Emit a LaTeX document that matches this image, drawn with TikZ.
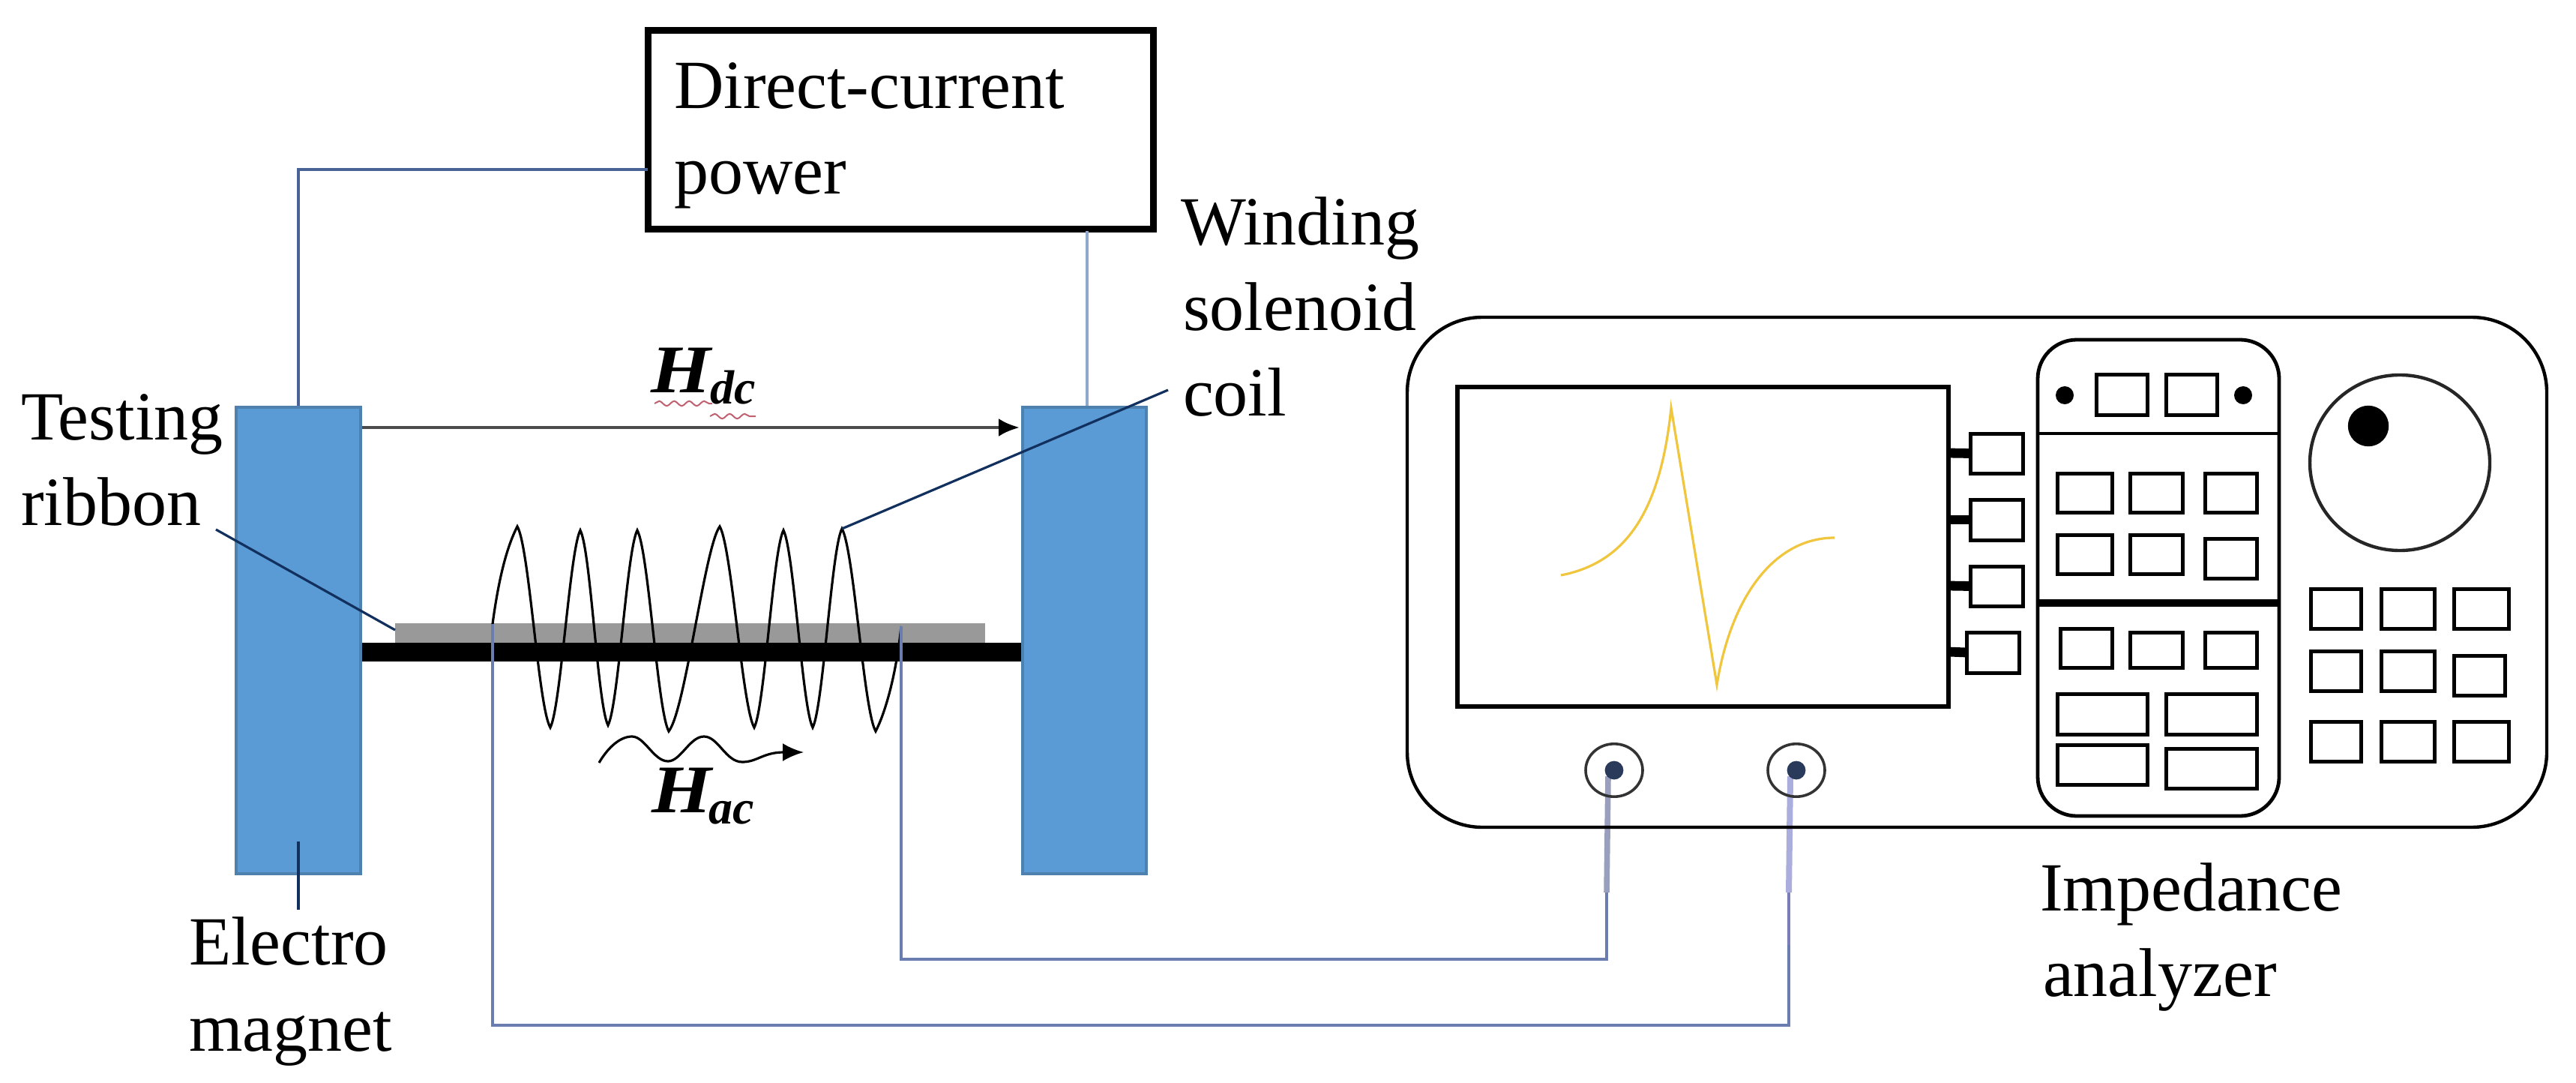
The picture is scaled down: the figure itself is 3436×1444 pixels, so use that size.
\documentclass[tikz,border=0pt]{standalone}
\usepackage{fontspec}
\usepackage{graphicx}
\setmainfont{Liberation Serif}
\usetikzlibrary{arrows.meta,decorations.pathmorphing}
\definecolor{magblue}{HTML}{5B9BD5}
\definecolor{magedge}{HTML}{4F81AF}
\definecolor{wireA}{HTML}{4A6396}
\definecolor{wireB}{HTML}{8FA8CC}
\definecolor{wireC}{HTML}{6A7DAF}
\definecolor{wireD}{HTML}{9A9FBE}
\definecolor{wireE}{HTML}{ABADDD}
\definecolor{wireF}{HTML}{7A7DB8}
\definecolor{navy}{HTML}{12305E}
\definecolor{portdot}{HTML}{2A3A5A}
\definecolor{curvey}{HTML}{F0C63E}
\definecolor{ribbon}{HTML}{999999}
\definecolor{spell}{HTML}{C06070}
\newcommand{\pxbox}[6][]{%
  \pgfmathsetmacro{\bxcx}{(#3+#5)/2}%
  \pgfmathsetmacro{\bxcy}{(#4+#6)/2}%
  \pgfmathsetmacro{\bxw}{(#5-#3)*0.25}%
  \pgfmathsetmacro{\bxh}{(#6-#4)*0.25}%
  \node[plain,minimum width=\bxw pt,minimum height=\bxh pt,#1] (#2) at (\bxcx,\bxcy) {};}
\tikzset{
  x=0.25pt,y=-0.25pt,
  plain/.style={rectangle,inner sep=0pt,outer sep=0pt},
  keybox/.style={draw=black,line width=1.25pt,fill=white},
  magnet/.style={fill=magblue,draw=magedge,line width=0.9pt},
  txt/.style={anchor=base west,inner sep=0pt,outer sep=0pt,font=\fontsize{23}{23}\selectfont},
  wire/.style={line width=0.9pt,color=wireA},
  leader/.style={line width=0.8pt,color=navy},
  hsym/.style={anchor=base west,inner sep=0pt,outer sep=0pt,font=\fontsize{22.7}{23}\selectfont\bfseries\itshape},
  hsub/.style={anchor=base west,inner sep=0pt,outer sep=0pt,font=\fontsize{16}{16}\selectfont\bfseries\itshape},
  spellmark/.style={spell,line width=0.5pt,decorate,decoration={snake,amplitude=0.8pt,segment length=5pt}},
  dn/.style={},
}
\begin{document}
\begin{tikzpicture}
\useasboundingbox (0,0) rectangle (3436,1444);
\fill[white] (0,0) rectangle (3436,1444);
% magnets, ribbon, bar
\pxbox[magnet]{magL}{315}{543}{481}{1165}
\pxbox[magnet]{magR}{1364}{543}{1529}{1165}
\pxbox[fill=ribbon]{strip}{527}{831}{1314}{857}
\pxbox[fill=black]{bar}{483}{857}{1362}{882}
% power supply
\pxbox[draw=black,line width=2.25pt,fill=white]{power}{864}{41}{1538}{305}
\node[txt] (tPow1) at (899,145) {Direct-current};
\node[txt] (tPow2) at (899,259) {power};
\coordinate (pwL) at (864,226);
\coordinate (pwR) at (1450,308);
\coordinate (mgL) at (398,541);
\coordinate (mgR) at (1450,541);
\draw[wire] (pwL) -- (398,226) -- (mgL);
\draw[wire,color=wireB,line width=1.1pt] (pwR) -- (mgR);
% H_dc arrow
\coordinate (dcA) at (483,570);
\coordinate (dcB) at (1360,570);
\draw[line width=1.2pt,color=black!70,-{Latex[length=7pt,width=6pt,color=black]}] (dcA) -- (dcB);
\node[hsym] (hdc) at (868,523) {\scalebox{1.13}[1]{H}};
\node[hsub] (hdcs) at (947,538) {dc};
\draw[spellmark] (873,538) -- (950,538);
\draw[spellmark] (947,555) -- (1008,555);
% coil
\coordinate (coilA) at (657,832);
\coordinate (coilB) at (1202,835);
\coordinate (coilC) at (1123,705);
\draw[line width=0.8pt,color=black]
 (coilA) .. controls +(8,-60) and +(-14,27) .. (690,702)
 .. controls +(16,27) and +(-16,-27) .. (734,970)
 .. controls +(14,-27) and +(-14,27) .. (774,707)
 .. controls +(14,27) and +(-14,-27) .. (811,967)
 .. controls +(14,-27) and +(-14,27) .. (850,707)
 .. controls +(15,27) and +(-15,-27) .. (892,975)
 .. controls +(22,-27) and +(-20,27) .. (960,702)
 .. controls +(16,27) and +(-16,-27) .. (1006,970)
 .. controls +(14,-27) and +(-14,27) .. (1045,707)
 .. controls +(14,27) and +(-14,-27) .. (1084,970)
 .. controls +(14,-27) and +(-14,27) .. (coilC)
 .. controls +(16,27) and +(-16,-27) .. (1168,975)
 .. controls +(14,-27) and +(-6,60) .. (coilB);
% H_ac
\coordinate (acA) at (799,1017);
\coordinate (acB) at (1072,1003);
\draw[line width=0.8pt,-{Latex[length=7pt,width=6pt]}] (acA)
 .. controls (812,995) and (828,982) .. (843,982)
 .. controls (860,982) and (872,1015) .. (891,1015)
 .. controls (908,1015) and (920,982) .. (939,982)
 .. controls (958,982) and (968,1016) .. (990,1016)
 .. controls (1010,1016) and (1018,1003) .. (acB);
\node[hsym] (hac) at (869,1083) {\scalebox{1.13}[1]{H}};
\node[hsub] (hacs) at (945,1098) {ac};
% leaders
\node[txt] (tTest1) at (28,586) {Testing};
\node[txt] (tTest2) at (28,700) {ribbon};
\coordinate (ldA) at (288,706);
\coordinate (ldB) at (527,840);
\draw[leader] (ldA) -- (ldB);
\node[txt] (tWin1) at (1575,326) {Winding};
\node[txt] (tWin2) at (1578,440) {solenoid};
\node[txt] (tWin3) at (1578,554) {coil};
\coordinate (ldC) at (1558,520);
\draw[leader] (ldC) -- (coilC);
\node[txt] (tEl1) at (252,1286) {Electro};
\node[txt] (tEl2) at (252,1401) {magnet};
\coordinate (ldD) at (398,1122);
\coordinate (ldE) at (398,1213);
\draw[line width=1pt,navy] (ldD) -- (ldE);
% measurement wires
\coordinate (portA) at (2153,1027);
\coordinate (portB) at (2396,1027);
\draw[wire,color=wireC,line width=1.1pt] (coilB) -- (1202,1279) -- (2143,1279) -- (2143,1180);
\draw[color=wireD,line width=1.9pt] (2143,1190) -- (2145,1035);
\draw[wire,color=wireC,line width=1.1pt] (coilA) -- (657,1367) -- (2386,1367) -- (2386,1250);
\draw[color=wireF,line width=1.2pt] (2386,1260) -- (2386,1180);
\draw[color=wireE,line width=2pt] (2386,1190) -- (2388,1035);
% analyzer
\pxbox[draw=black,line width=1.1pt,rounded corners=25pt]{body}{1877}{423}{3397}{1103}
\pxbox[draw=black,line width=1.5pt]{screen}{1944}{516}{2599}{942}
\draw[curvey,line width=0.8pt] (2082,767) .. controls (2170,750) and (2215,680) .. (2229,544)
  -- (2290,913) .. controls (2310,790) and (2370,717) .. (2447,717);
% side buttons
\foreach \yy/\xa/\xb/\ya/\yb/\nm in {604/2628/2698/578/631/a,693/2628/2698/666/720/b,781/2628/2698/755/808/c,869/2623/2693/843/897/d}{
  \pxbox[keybox]{side\nm}{\xa}{\ya}{\xb}{\yb}
  \draw[line width=3.2pt,black] (2599,\yy) -- (side\nm.west);
}
% middle panel
\pxbox[draw=black,line width=1.2pt,rounded corners=13pt]{panel}{2718}{453}{3040}{1088}
\draw[line width=1.2pt,black] (panel.west |- 0,578) -- (panel.east |- 0,578);
\draw[line width=2.4pt,black] (panel.west |- 0,804) -- (panel.east |- 0,804);
\fill[black] (2754,527) circle (3pt);
\fill[black] (2992,527) circle (3pt);
\pxbox[keybox]{t1}{2796}{499}{2864}{553}
\pxbox[keybox]{t2}{2889}{499}{2957}{553}
\pxbox[keybox]{g1}{2744}{631}{2817}{683}
\pxbox[keybox]{g2}{2841}{631}{2911}{683}
\pxbox[keybox]{g3}{2941}{631}{3010}{683}
\pxbox[keybox]{g4}{2744}{713}{2817}{765}
\pxbox[keybox]{g5}{2841}{713}{2911}{765}
\pxbox[keybox]{g6}{2941}{718}{3010}{771}
\pxbox[keybox]{h1}{2748}{838}{2817}{890}
\pxbox[keybox]{h2}{2841}{843}{2911}{890}
\pxbox[keybox]{h3}{2941}{843}{3010}{890}
\pxbox[keybox]{w1}{2744}{925}{2864}{979}
\pxbox[keybox]{w2}{2889}{925}{3010}{979}
\pxbox[keybox]{w3}{2744}{993}{2864}{1046}
\pxbox[keybox]{w4}{2889}{998}{3010}{1051}
% knob
\coordinate (knobC) at (3201,617);
\draw[black!85,line width=1.1pt] (knobC) ellipse [x radius=30pt,y radius=29.25pt];
\fill[black] (3159,568) circle (6.8pt);
% right keypad
\pxbox[keybox]{r1}{3082}{785}{3149}{838}
\pxbox[keybox]{r2}{3176}{785}{3247}{838}
\pxbox[keybox]{r3}{3273}{785}{3346}{838}
\pxbox[keybox]{r4}{3082}{868}{3149}{921}
\pxbox[keybox]{r5}{3176}{868}{3247}{921}
\pxbox[keybox]{r6}{3273}{874}{3341}{927}
\pxbox[keybox]{r7}{3082}{962}{3149}{1015}
\pxbox[keybox]{r8}{3176}{962}{3247}{1015}
\pxbox[keybox]{r9}{3273}{962}{3346}{1015}
% connectors
\draw[black!80,line width=0.9pt] (portA) ellipse [x radius=9.5pt,y radius=8.8pt];
\draw[black!80,line width=0.9pt] (portB) ellipse [x radius=9.5pt,y radius=8.8pt];
\fill[portdot] (portA) circle (3.1pt);
\fill[portdot] (portB) circle (3.1pt);
\node[txt] (tImp1) at (2721,1214) {Impedance};
\node[txt] (tImp2) at (2725,1328) {analyzer};
\end{tikzpicture}
\end{document}
